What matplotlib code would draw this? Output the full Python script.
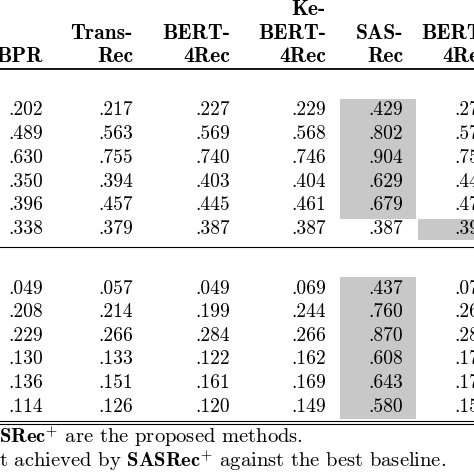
import matplotlib
matplotlib.use("Agg")
import matplotlib.pyplot as plt
from matplotlib.patches import Rectangle

plt.rcParams['mathtext.fontset'] = 'cm'
plt.rcParams['axes.formatter.use_mathtext'] = True

header_line1 = ["", "", "", "Ke-", "", ""]
header_line2 = ["", "Trans-", "BERT-", "BERT-", "SAS-", "BERT-"]
header_line3 = ["BPR", "Rec", "4Rec", "4Rec", "Rec", "4Rec"]

block1 = [
    [".202", ".217", ".227", ".229", ".429", ".279"],
    [".489", ".563", ".569", ".568", ".802", ".571"],
    [".630", ".755", ".740", ".746", ".904", ".753"],
    [".350", ".394", ".403", ".404", ".629", ".444"],
    [".396", ".457", ".445", ".461", ".679", ".479"],
    [".338", ".379", ".387", ".387", ".387", ".391"],
]
block2 = [
    [".049", ".057", ".049", ".069", ".437", ".073"],
    [".208", ".214", ".199", ".244", ".760", ".267"],
    [".229", ".266", ".284", ".266", ".870", ".288"],
    [".130", ".133", ".122", ".162", ".608", ".171"],
    [".136", ".151", ".161", ".169", ".643", ".177"],
    [".114", ".126", ".120", ".149", ".580", ".155"],
]
footnotes = [r"$\mathbf{SRec}^{+}$ are the proposed methods.",
             r"t achieved by $\mathbf{SASRec}^{+}$ against the best baseline."]

# layout (pixel coordinates)
col_right = [43, 133, 230, 326, 403, 489]
rows1_y = [110, 134, 158, 182, 205, 229]
rows2_y = [289, 312, 336, 359, 383, 407]
FS = 14

fig = plt.figure(figsize=(4.74, 4.74), dpi=100)
ax = fig.add_axes([0, 0, 1, 1])
ax.set_xlim(0, 474)
ax.set_ylim(474, 0)
ax.axis('off')

g = '#c8c8c8'
ax.add_patch(Rectangle((340, 99), 76, 120, color=g, lw=0))
ax.add_patch(Rectangle((418, 219), 60, 21, color=g, lw=0))
ax.add_patch(Rectangle((340, 277), 76, 142, color=g, lw=0))

for lines, y in ((header_line1, 9), (header_line2, 33), (header_line3, 56)):
    for x, t in zip(col_right, lines):
        if t:
            ax.text(x, y, t, ha='right', va='center', fontsize=15.5,
                    family='cmb10', clip_on=True)

for block, ys in ((block1, rows1_y), (block2, rows2_y)):
    for row, y in zip(block, ys):
        for x, t in zip(col_right, row):
            ax.text(x, y, t, ha='right', va='center', family='cmr10',
                    fontsize=FS, clip_on=True)

ax.plot([0, 474], [68.5, 68.5], color='black', lw=1.3)
ax.plot([0, 474], [247, 247], color='black', lw=0.8)
ax.plot([0, 474], [421, 421], color='black', lw=0.8)
ax.plot([0, 474], [424, 424], color='black', lw=0.8)

ax.text(-1, 437, footnotes[0], ha='left', va='center', fontsize=14.8, family='cmr10')
ax.text(-1, 461, footnotes[1], ha='left', va='center', fontsize=14.8, family='cmr10')

fig.savefig("out.png", dpi=100)
